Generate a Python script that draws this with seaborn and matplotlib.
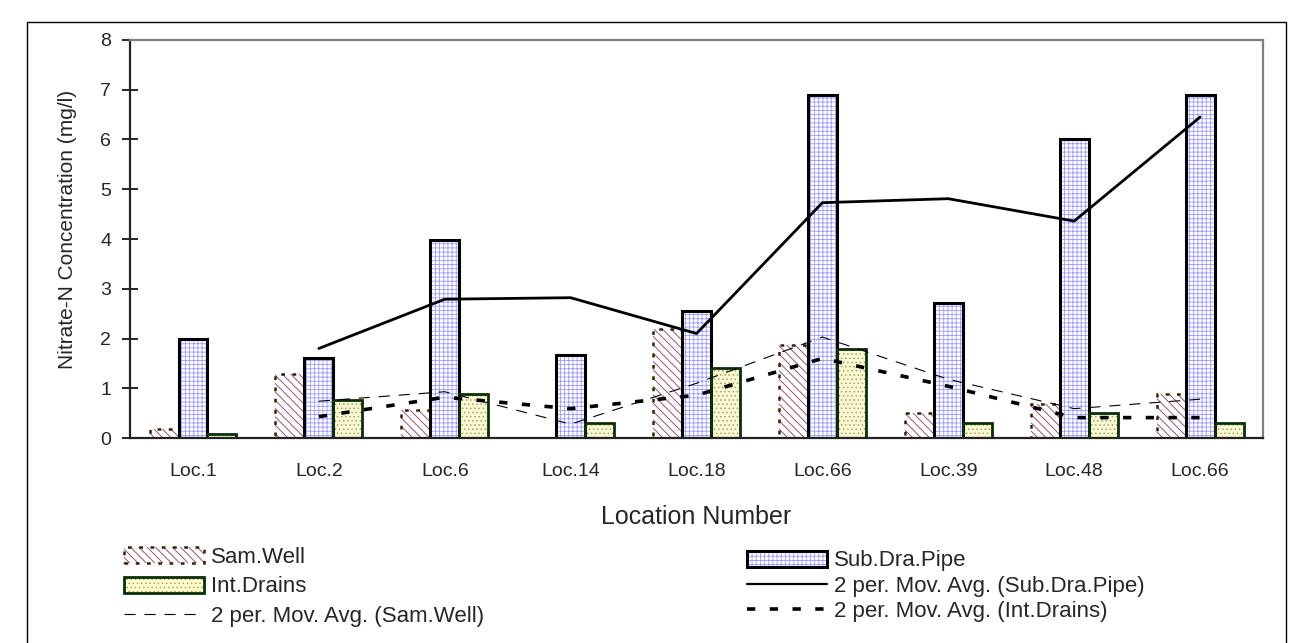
import seaborn as sns
import pandas as pd
import matplotlib.pyplot as plt
from matplotlib.patches import Patch, Rectangle
from matplotlib.lines import Line2D

# Nitrate-N per location, three sampling sources + 2-period moving averages
locations = ["Loc.1", "Loc.2", "Loc.6", "Loc.14", "Loc.18", "Loc.66", "Loc.39", "Loc.48", "Loc.66"]
sam_well = [0.18, 1.29, 0.56, 0.0, 2.19, 1.86, 0.50, 0.68, 0.88]
sub_pipe = [2.0, 1.61, 3.97, 1.66, 2.55, 6.9, 2.72, 6.0, 6.9]
int_drains = [0.09, 0.76, 0.88, 0.30, 1.41, 1.78, 0.30, 0.51, 0.30]

# moving average values (start at 2nd location)
ma_sam_well = [0.74, 0.93, 0.28, 1.10, 2.03, 1.18, 0.59, 0.78]
ma_sub_pipe = [1.80, 2.79, 2.82, 2.10, 4.73, 4.81, 4.36, 6.45]
ma_int_drains = [0.43, 0.82, 0.59, 0.86, 1.60, 1.04, 0.41, 0.41]

series = ["Sam.Well", "Sub.Dra.Pipe", "Int.Drains"]

if __name__ == '__main__':
    sns.set_theme(style="white")
    plt.rcParams['font.family'] = ['Liberation Sans', 'DejaVu Sans']
    plt.rcParams['hatch.linewidth'] = 0.6

    idx = list(range(len(locations)))
    df = pd.DataFrame({
        "pos": idx * 3,
        "value": sam_well + sub_pipe + int_drains,
        "series": [s for s in series for _ in idx],
    })

    fig = plt.figure(figsize=(13.11, 6.43), dpi=100)
    ax = fig.add_axes([0.0992, 0.3188, 0.8642, 0.619])

    sns.barplot(data=df, x="pos", y="value", hue="series", hue_order=series,
                palette=["white", "white", "#ffffcc"], width=0.69, legend=False, ax=ax)

    # hatch layer + separate outline layer (hatch colour differs from edge colour)
    hatch_style = {
        "Sam.Well": dict(hatch="\\\\\\\\", hc="#8c3a5c"),
        "Sub.Dra.Pipe": dict(hatch="++++", hc="#9a9aff"),
        "Int.Drains": dict(hatch="....", hc="#a8a070"),
    }
    edge_style = {
        "Sam.Well": dict(ec="#332200", lw=1.8, ls=(0, (1.5, 3))),
        "Sub.Dra.Pipe": dict(ec="black", lw=2.2, ls="-"),
        "Int.Drains": dict(ec="#0b2e0b", lw=2.0, ls="-"),
    }
    for name, cont in zip(series, ax.containers):
        for p in cont.patches:
            p.set_hatch(hatch_style[name]["hatch"])
            p.set_edgecolor(hatch_style[name]["hc"])
            p.set_linewidth(0)
            es = edge_style[name]
            ax.add_patch(Rectangle(p.get_xy(), p.get_width(), p.get_height(), fill=False,
                                   edgecolor=es["ec"], linewidth=es["lw"], linestyle=es["ls"],
                                   zorder=p.get_zorder() + 0.1))

    sns.lineplot(x=idx[1:], y=ma_sam_well, color="black", lw=0.8,
                 linestyle=(0, (10, 8)), ax=ax, zorder=5)
    sns.lineplot(x=idx[1:], y=ma_sub_pipe, color="black", lw=2.0, ax=ax, zorder=5)
    sns.lineplot(x=idx[1:], y=ma_int_drains, color="black", lw=2.6,
                 linestyle=(0, (2.3, 4)), ax=ax, zorder=5)

    ax.set_xlim(-0.5, len(locations) - 0.5)
    ax.set_ylim(0, 8)
    ax.set_yticks(range(0, 9))
    ax.set_xticks(idx)
    ax.set_xticklabels(locations)
    ax.set_xticks([i - 0.5 for i in range(len(locations) + 1)], minor=True)
    ax.tick_params(axis="x", which="major", length=0, pad=18, labelsize=14)
    ax.tick_params(axis="x", which="minor", length=5, width=1.2, direction="out", color="black")
    ax.tick_params(axis="y", length=11, width=1.2, direction="inout", pad=8, labelsize=14,
                   color="black", left=True)
    ax.set_xlabel("Location Number", fontsize=18, labelpad=18)
    ax.set_ylabel("Nitrate-N Concentration (mg/l)", fontsize=15)
    ax.yaxis.set_label_coords(-0.047, 0.525)

    for side in ["left", "bottom"]:
        ax.spines[side].set_color("#222222")
        ax.spines[side].set_linewidth(1.6)
    for side in ["top", "right"]:
        ax.spines[side].set_color("#808080")
        ax.spines[side].set_linewidth(1.6)

    # outer chart border
    fig.add_artist(Rectangle((27 / 1311, -0.01), (1286 - 27) / 1311, 0.9758,
                             transform=fig.transFigure, fill=False, lw=1.0, ec="black"))

    def bar_handle(name, fc):
        hs, es = hatch_style[name], edge_style[name]
        return (Patch(facecolor=fc, hatch=hs["hatch"], edgecolor=hs["hc"], lw=0),
                Patch(fill=False, edgecolor=es["ec"], lw=es["lw"], linestyle=es["ls"]))

    h_sam = bar_handle("Sam.Well", "white")
    h_sub = bar_handle("Sub.Dra.Pipe", "white")
    h_int = bar_handle("Int.Drains", "#ffffcc")
    l_sam = Line2D([], [], color="black", lw=0.8, linestyle=(0, (10, 8)))
    l_sub = Line2D([], [], color="black", lw=1.6)
    l_int = Line2D([], [], color="black", lw=2.6, linestyle=(0, (2.3, 4)))

    leg_kw = dict(loc="upper left", frameon=False, fontsize=16, handlelength=3.6,
                  handleheight=0.75, handletextpad=0.3,
                  borderaxespad=0, borderpad=0)
    fig.legend([h_sam, h_int, l_sam],
               ["Sam.Well", "Int.Drains", "2 per. Mov. Avg. (Sam.Well)"],
               bbox_to_anchor=(0.0946, 0.150), labelspacing=0.4, **leg_kw)
    fig.legend([h_sub, l_sub, l_int],
               ["Sub.Dra.Pipe", "2 per. Mov. Avg. (Sub.Dra.Pipe)", "2 per. Mov. Avg. (Int.Drains)"],
               bbox_to_anchor=(0.5698, 0.144), labelspacing=0.2, **leg_kw)

    fig.savefig("out.png", dpi=100)
